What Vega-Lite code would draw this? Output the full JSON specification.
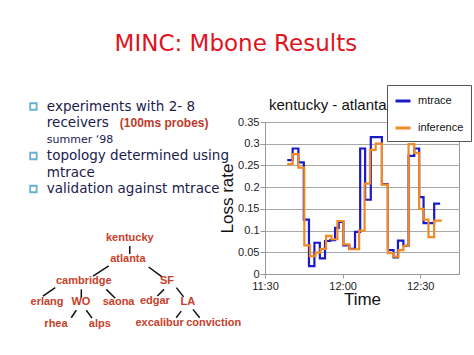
{
  "$schema": "https://vega.github.io/schema/vega-lite/v6.json",
  "background": "white",
  "padding": {"left": 26, "top": 32, "right": 0, "bottom": 0},
  "bounds": "flush",
  "spacing": 29,
  "hconcat": [
    {
      "width": 205,
      "height": 209,
      "view": {"stroke": null},
      "title": {"text": "MINC: Mbone Results", "font": "DejaVu Sans", "fontSize": 23, "fontWeight": "normal", "color": "#e0141e", "anchor": "start", "dx": 88, "offset": 44},
      "resolve": {"scale": {"y": "independent"}},
      "layer": [
        {
          "data": {"values": [{"pos": 0.13, "line": 0}, {"pos": 0.13, "line": 3}, {"pos": 0.13, "line": 5}]},
          "mark": {"type": "point", "shape": "square", "filled": false, "stroke": "#2a8fbd", "strokeWidth": 1.8, "size": 42},
          "encoding": {
            "x": {"field": "pos", "type": "quantitative", "scale": {"domain": [0, 11]}, "axis": null},
            "y": {"field": "line", "type": "quantitative", "scale": {"domain": [0.939, 13.606], "reverse": true, "zero": false}, "axis": null}
          }
        },
        {
          "data": {"values": [
            {"pos": 0.85, "line": 0, "txt": "experiments with 2- 8"},
            {"pos": 0.85, "line": 1, "txt": "receivers"},
            {"pos": 0.85, "line": 3, "txt": "topology determined using"},
            {"pos": 0.85, "line": 4, "txt": "mtrace"},
            {"pos": 0.85, "line": 5, "txt": "validation against mtrace"}
          ]},
          "mark": {"type": "text", "align": "left", "baseline": "middle", "font": "DejaVu Sans", "fontSize": 13.5, "color": "#1b1b4d"},
          "encoding": {
            "x": {"field": "pos", "type": "quantitative", "scale": {"domain": [0, 11]}, "axis": null},
            "y": {"field": "line", "type": "quantitative", "scale": {"domain": [0.939, 13.606], "reverse": true, "zero": false}, "axis": null},
            "text": {"field": "txt"}
          }
        },
        {
          "data": {"values": [{"pos": 0.85, "line": 2, "txt": "summer ‘98"}]},
          "mark": {"type": "text", "align": "left", "baseline": "middle", "font": "DejaVu Sans", "fontSize": 11, "color": "#1b1b4d"},
          "encoding": {
            "x": {"field": "pos", "type": "quantitative", "scale": {"domain": [0, 11]}, "axis": null},
            "y": {"field": "line", "type": "quantitative", "scale": {"domain": [0.939, 13.606], "reverse": true, "zero": false}, "axis": null},
            "text": {"field": "txt"}
          }
        },
        {
          "data": {"values": [{"pos": 0.85, "line": 1, "txt": "(100ms probes)"}]},
          "mark": {"type": "text", "align": "left", "baseline": "middle", "font": "Liberation Sans", "fontSize": 12, "fontWeight": "bold", "color": "#c0392b", "dx": 73},
          "encoding": {
            "x": {"field": "pos", "type": "quantitative", "scale": {"domain": [0, 11]}, "axis": null},
            "y": {"field": "line", "type": "quantitative", "scale": {"domain": [0.939, 13.606], "reverse": true, "zero": false}, "axis": null},
            "text": {"field": "txt"}
          }
        },
        {
          "data": {"values": [
            {"pos": 5.3, "depth": 0.37, "pos2": 5.3, "depth2": 0.74},
            {"pos": 4.17, "depth": 1.3, "pos2": 3.33, "depth2": 1.77},
            {"pos": 6.31, "depth": 1.35, "pos2": 7.03, "depth2": 1.81},
            {"pos": 1.3, "depth": 2.31, "pos2": 0.64, "depth2": 2.7},
            {"pos": 2.7, "depth": 2.39, "pos2": 2.7, "depth2": 2.8},
            {"pos": 4.04, "depth": 2.39, "pos2": 4.52, "depth2": 2.8},
            {"pos": 7.14, "depth": 2.39, "pos2": 6.78, "depth2": 2.7},
            {"pos": 7.8, "depth": 2.31, "pos2": 8.19, "depth2": 2.74},
            {"pos": 2.43, "depth": 3.36, "pos2": 2.16, "depth2": 3.71},
            {"pos": 2.97, "depth": 3.36, "pos2": 3.27, "depth2": 3.73},
            {"pos": 8.06, "depth": 3.4, "pos2": 7.79, "depth2": 3.71},
            {"pos": 8.69, "depth": 3.32, "pos2": 9.05, "depth2": 3.71}
          ]},
          "mark": {"type": "rule", "color": "#111111", "strokeWidth": 1.5},
          "encoding": {
            "x": {"field": "pos", "type": "quantitative", "scale": {"domain": [0, 11]}, "axis": null},
            "x2": {"field": "pos2"},
            "y": {"field": "depth", "type": "quantitative", "scale": {"domain": [-5.395, 4.326], "reverse": true, "zero": false}, "axis": null},
            "y2": {"field": "depth2"}
          }
        },
        {
          "data": {"values": [
            {"name": "kentucky", "pos": 5.3, "depth": 0},
            {"name": "atlanta", "pos": 5.2, "depth": 1},
            {"name": "cambridge", "pos": 2.83, "depth": 2},
            {"name": "SF", "pos": 7.3, "depth": 2},
            {"name": "erlang", "pos": 0.86, "depth": 3},
            {"name": "WO", "pos": 2.68, "depth": 3},
            {"name": "saona", "pos": 4.7, "depth": 3},
            {"name": "edgar", "pos": 6.65, "depth": 2.95},
            {"name": "LA", "pos": 8.42, "depth": 3},
            {"name": "rhea", "pos": 1.34, "depth": 4},
            {"name": "alps", "pos": 3.69, "depth": 4},
            {"name": "excalibur", "pos": 6.9, "depth": 3.95},
            {"name": "conviction", "pos": 9.8, "depth": 3.95}
          ]},
          "mark": {"type": "text", "align": "center", "baseline": "middle", "font": "Liberation Sans", "fontSize": 11, "fontWeight": "bold", "color": "#c8402a"},
          "encoding": {
            "x": {"field": "pos", "type": "quantitative", "scale": {"domain": [0, 11]}, "axis": null},
            "y": {"field": "depth", "type": "quantitative", "scale": {"domain": [-5.395, 4.326], "reverse": true, "zero": false}, "axis": null},
            "text": {"field": "name"}
          }
        }
      ]
    },
    {
      "width": 194,
      "height": 152,
      "view": {"stroke": "#999999"},
      "title": {"text": "kentucky - atlanta", "font": "Liberation Sans", "fontSize": 15, "fontWeight": "normal", "color": "#111111", "anchor": "start", "frame": "group", "dx": 4, "offset": 3},
      "data": {"values": [
        {"series": "mtrace", "t": 8.6, "loss": 0.262},
        {"series": "mtrace", "t": 10.7, "loss": 0.289},
        {"series": "mtrace", "t": 12.9, "loss": 0.257},
        {"series": "mtrace", "t": 15.0, "loss": 0.125},
        {"series": "mtrace", "t": 17.0, "loss": 0.018},
        {"series": "mtrace", "t": 19.1, "loss": 0.072},
        {"series": "mtrace", "t": 21.2, "loss": 0.036},
        {"series": "mtrace", "t": 23.2, "loss": 0.076},
        {"series": "mtrace", "t": 25.2, "loss": 0.078},
        {"series": "mtrace", "t": 27.1, "loss": 0.106},
        {"series": "mtrace", "t": 28.5, "loss": 0.12},
        {"series": "mtrace", "t": 30.3, "loss": 0.066},
        {"series": "mtrace", "t": 32.6, "loss": 0.058},
        {"series": "mtrace", "t": 34.8, "loss": 0.097},
        {"series": "mtrace", "t": 36.8, "loss": 0.289},
        {"series": "mtrace", "t": 38.7, "loss": 0.171},
        {"series": "mtrace", "t": 40.9, "loss": 0.315},
        {"series": "mtrace", "t": 45.2, "loss": 0.207},
        {"series": "mtrace", "t": 47.5, "loss": 0.055},
        {"series": "mtrace", "t": 49.7, "loss": 0.038},
        {"series": "mtrace", "t": 51.4, "loss": 0.077},
        {"series": "mtrace", "t": 53.5, "loss": 0.065},
        {"series": "mtrace", "t": 55.5, "loss": 0.272},
        {"series": "mtrace", "t": 57.7, "loss": 0.289},
        {"series": "mtrace", "t": 59.6, "loss": 0.177},
        {"series": "mtrace", "t": 61.3, "loss": 0.117},
        {"series": "mtrace", "t": 65.4, "loss": 0.162},
        {"series": "mtrace", "t": 67.7, "loss": 0.162},
        {"series": "inference", "t": 8.6, "loss": 0.253},
        {"series": "inference", "t": 10.7, "loss": 0.276},
        {"series": "inference", "t": 12.9, "loss": 0.245},
        {"series": "inference", "t": 15.2, "loss": 0.066},
        {"series": "inference", "t": 17.4, "loss": 0.041},
        {"series": "inference", "t": 19.5, "loss": 0.049},
        {"series": "inference", "t": 21.5, "loss": 0.058},
        {"series": "inference", "t": 23.6, "loss": 0.088},
        {"series": "inference", "t": 25.7, "loss": 0.08},
        {"series": "inference", "t": 28.0, "loss": 0.122},
        {"series": "inference", "t": 30.3, "loss": 0.068},
        {"series": "inference", "t": 32.6, "loss": 0.057},
        {"series": "inference", "t": 36.4, "loss": 0.1},
        {"series": "inference", "t": 38.5, "loss": 0.208},
        {"series": "inference", "t": 40.6, "loss": 0.286},
        {"series": "inference", "t": 42.8, "loss": 0.3},
        {"series": "inference", "t": 45.2, "loss": 0.206},
        {"series": "inference", "t": 47.5, "loss": 0.048},
        {"series": "inference", "t": 49.7, "loss": 0.04},
        {"series": "inference", "t": 51.6, "loss": 0.055},
        {"series": "inference", "t": 53.5, "loss": 0.065},
        {"series": "inference", "t": 55.5, "loss": 0.299},
        {"series": "inference", "t": 57.7, "loss": 0.279},
        {"series": "inference", "t": 59.6, "loss": 0.15},
        {"series": "inference", "t": 61.3, "loss": 0.125},
        {"series": "inference", "t": 63.2, "loss": 0.085},
        {"series": "inference", "t": 65.4, "loss": 0.123},
        {"series": "inference", "t": 68.4, "loss": 0.123}
      ]},
      "mark": {"type": "line", "interpolate": "step-after", "strokeWidth": 2.2},
      "encoding": {
        "x": {
          "field": "t", "type": "quantitative",
          "scale": {"domain": [0, 75], "nice": false, "zero": false},
          "axis": {"values": [0, 30, 60], "labelExpr": "datum.value == 0 ? '11:30' : datum.value == 30 ? '12:00' : '12:30'", "labelFlush": false, "title": "Time", "titleFont": "Liberation Sans", "titleFontSize": 17, "titleFontWeight": "normal", "titleColor": "#111111", "titlePadding": 0, "labelFont": "Liberation Sans", "labelFontSize": 11, "labelColor": "#222222", "grid": false, "domainColor": "#999999", "tickColor": "#999999", "tickSize": 4, "labelPadding": 2}
        },
        "y": {
          "field": "loss", "type": "quantitative",
          "scale": {"domain": [0, 0.35], "nice": false},
          "axis": {"values": [0, 0.05, 0.1, 0.15, 0.2, 0.25, 0.3, 0.35], "format": "~g", "labelFlush": false, "title": "Loss rate", "titleFont": "Liberation Sans", "titleFontSize": 17, "titleFontWeight": "normal", "titleColor": "#111111", "titlePadding": 1, "labelFont": "Liberation Sans", "labelFontSize": 11, "labelColor": "#222222", "grid": true, "gridColor": "#a8a8a8", "gridOpacity": 1, "domainColor": "#999999", "tickColor": "#999999", "tickSize": 5, "labelPadding": 1}
        },
        "color": {
          "field": "series", "type": "nominal",
          "scale": {"domain": ["mtrace", "inference"], "range": ["#1a1ac8", "#f28a24"]},
          "legend": {"title": null, "orient": "none", "legendX": 356, "legendY": -37, "symbolType": "stroke", "symbolStrokeWidth": 3, "symbolSize": 225, "labelFont": "Liberation Sans", "labelFontSize": 11, "labelColor": "#111111", "rowPadding": 12, "padding": 7, "strokeColor": "#555555", "fillColor": "white", "labelOffset": 6}
        }
      }
    }
  ]
}
